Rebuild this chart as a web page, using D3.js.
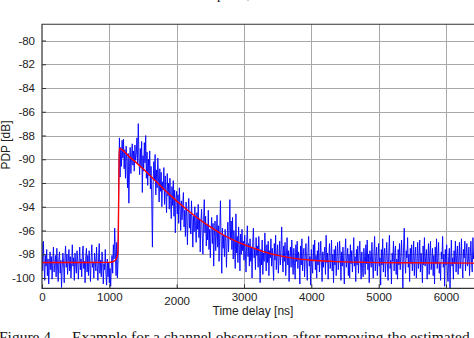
<!DOCTYPE html>
<html>
<head>
<meta charset="utf-8">
<script src="https://cdn.jsdelivr.net/npm/d3@7"></script>
<style>
  html, body { margin: 0; padding: 0; background: #fff; }
  svg { display: block; }
</style>
</head>
<body>
<svg id="chart" width="474" height="338"></svg>
<script>
// Tick labels
const xTicks = [0, 1000, 2000, 3000, 4000, 5000, 6000];
const yTicks = [-80, -82, -84, -86, -88, -90, -92, -94, -96, -98, -100];

// Measured power delay profile, one sample every 10 ns starting at 0 ns (dB)
const sampleStep = 10;
const pdpMeasured = [
  // 0 - 190 ns
  -97.0, -99.4, -96.9, -98.6, -100.2, -98.1, -99.0, -97.6, -99.8, -98.4, -100.5, -98.9, -97.8, -99.3, -98.2, -100.1, -98.6, -97.4, -99.5, -98.8,
  // 200 - 390 ns
  -98.1, -99.9, -97.5, -98.9, -100.3, -98.4, -97.8, -99.6, -98.5, -100.8, -99.2, -97.9, -98.7, -100.4, -98.3, -97.3, -99.1, -98.0, -99.7, -98.6,
  // 400 - 590 ns
  -97.6, -99.4, -98.2, -100.0, -98.8, -97.2, -99.0, -98.3, -100.2, -97.9, -98.9, -99.6, -97.7, -98.5, -100.1, -98.7, -97.4, -99.3, -98.4, -99.9,
  // 600 - 790 ns
  -98.0, -97.3, -99.2, -98.6, -100.4, -98.2, -97.5, -99.5, -98.1, -99.8, -97.7, -98.8, -100.3, -98.4, -97.2, -99.1, -98.7, -100.0, -97.9, -98.5,
  // 800 - 990 ns
  -99.4, -97.4, -98.9, -100.2, -98.3, -97.1, -99.6, -98.5, -99.9, -97.8, -98.2, -100.5, -98.8, -99.3, -97.6, -99.7, -100.6, -98.4, -99.9, -98.7,
  // 1000 - 1190 ns
  -100.4, -99.2, -100.7, -99.0, -98.1, -99.6, -97.2, -98.4, -95.8, -97.9, -99.8, -97.0, -100.0, -98.5, -92.0, -88.2, -91.5, -89.0, -90.6, -88.4,
  // 1200 - 1390 ns
  -89.9, -88.3, -90.8, -89.2, -91.6, -88.9, -90.2, -92.4, -89.5, -93.7, -90.6, -89.0, -91.2, -89.8, -88.7, -90.5, -89.3, -91.0, -88.8, -90.1,
  // 1400 - 1590 ns
  -89.6, -88.2, -90.4, -87.0, -89.9, -91.3, -89.1, -90.7, -88.5, -92.8, -89.7, -91.0, -88.6, -90.3, -88.0, -91.6, -89.4, -92.2, -90.0, -91.4,
  // 1600 - 1790 ns
  -89.3, -92.5, -90.6, -93.4, -97.4, -92.1, -90.2, -91.8, -89.6, -93.0, -90.9, -92.4, -89.9, -91.5, -93.6, -90.8, -92.7, -91.1, -94.0, -91.9,
  // 1800 - 1990 ns
  -92.6, -90.7, -93.8, -91.4, -92.9, -94.5, -91.2, -93.1, -92.0, -94.2, -91.6, -93.5, -95.0, -92.3, -93.9, -91.8, -94.8, -92.6, -96.2, -93.3,
  // 2000 - 2190 ns
  -92.7, -94.6, -93.0, -95.4, -92.4, -94.1, -96.0, -93.5, -95.1, -93.9, -92.8, -95.7, -94.3, -96.5, -93.6, -94.9, -97.2, -94.4, -93.3, -95.8,
  // 2200 - 2390 ns
  -94.6, -96.3, -93.5, -95.2, -97.4, -94.8, -96.1, -94.0, -95.6, -97.0, -94.5, -95.9, -93.8, -96.6, -95.0, -97.8, -95.3, -94.2, -96.4, -98.0,
  // 2400 - 2590 ns
  -95.1, -93.4, -96.2, -94.8, -97.3, -95.5, -96.8, -94.3, -97.6, -95.9, -98.3, -96.0, -94.9, -97.1, -95.4, -99.0, -96.5, -95.2, -97.7, -96.3,
  // 2600 - 2790 ns
  -94.7, -97.4, -95.6, -98.6, -96.2, -93.5, -96.9, -99.6, -95.8, -97.5, -96.4, -98.2, -95.9, -97.0, -99.1, -96.6, -95.3, -97.8, -96.1, -93.4,
  // 2800 - 2990 ns
  -96.8, -95.2, -97.6, -94.9, -98.4, -96.0, -97.3, -99.2, -94.6, -97.9, -96.5, -98.7, -95.7, -97.2, -99.4, -96.3, -98.0, -95.9, -97.7, -96.9,
  // 3000 - 3190 ns
  -98.5, -96.4, -97.8, -99.5, -96.9, -95.6, -98.2, -97.1, -99.0, -96.7, -98.6, -97.4, -100.0, -97.0, -95.8, -98.3, -97.5, -99.3, -96.6, -98.1,
  // 3200 - 3390 ns
  -97.3, -99.1, -96.5, -98.4, -100.4, -97.6, -98.9, -96.8, -99.7, -97.9, -98.6, -96.2, -98.0, -99.4, -97.2, -98.7, -96.9, -99.8, -97.7, -98.3,
  // 3400 - 3590 ns
  -96.7, -99.0, -97.5, -98.8, -100.2, -97.1, -98.5, -96.4, -99.3, -98.0, -97.2, -99.6, -98.3, -96.9, -98.9, -97.6, -95.7, -98.4, -99.5, -97.3,
  // 3600 - 3790 ns
  -98.6, -97.0, -99.8, -98.1, -96.6, -98.9, -97.7, -100.3, -98.2, -97.4, -99.1, -96.8, -98.5, -99.7, -97.5, -98.8, -100.1, -97.2, -98.6, -96.9,
  // 3800 - 3990 ns
  -99.2, -97.8, -98.4, -100.5, -97.3, -98.9, -96.7, -99.4, -98.0, -97.5, -99.9, -98.3, -97.1, -98.7, -100.2, -97.9, -96.5, -99.0, -98.2, -100.6,
  // 4000 - 4190 ns
  -97.6, -98.8, -99.6, -97.2, -98.5, -96.8, -99.3, -98.1, -100.0, -97.7, -98.9, -97.0, -99.5, -98.4, -96.9, -98.6, -100.3, -97.8, -99.1, -98.0,
  // 4200 - 4390 ns
  -97.4, -99.7, -96.4, -98.7, -97.9, -100.1, -98.3, -97.1, -99.2, -98.6, -96.8, -99.4, -98.0, -100.4, -97.6, -98.9, -97.3, -99.8, -98.2, -97.0,
  // 4400 - 4590 ns
  -99.3, -98.5, -96.9, -98.1, -100.2, -97.8, -99.0, -97.4, -98.7, -100.5, -97.9, -96.7, -99.1, -98.4, -97.5, -99.8, -98.0, -100.0, -97.2, -98.8,
  // 4600 - 4790 ns
  -97.7, -99.5, -98.3, -96.6, -99.0, -98.2, -100.3, -97.6, -98.9, -97.3, -99.6, -98.1, -96.9, -98.6, -100.1, -97.8, -99.2, -99.9, -97.5, -98.4,
  // 4800 - 4990 ns
  -99.7, -97.2, -98.8, -96.8, -99.3, -98.0, -100.4, -97.7, -98.5, -99.1, -97.0, -98.7, -100.0, -97.9, -96.5, -99.4, -98.2, -97.4, -99.8, -98.6,
  // 5000 - 5190 ns
  -97.1, -99.0, -98.3, -100.6, -97.6, -98.9, -96.7, -99.5, -98.1, -97.5, -99.9, -98.4, -97.0, -98.8, -100.2, -97.8, -96.4, -99.2, -98.5, -100.5,
  // 5200 - 5390 ns
  -97.9, -98.6, -96.9, -99.4, -98.0, -97.3, -99.7, -98.4, -100.1, -97.6, -98.9, -97.1, -99.3, -98.2, -96.8, -98.7, -100.9, -97.4, -95.8, -98.5,
  // 5400 - 5590 ns
  -99.6, -97.7, -98.3, -96.6, -99.1, -98.0, -100.3, -97.5, -98.8, -97.2, -99.4, -98.5, -96.9, -99.8, -98.1, -97.4, -100.0, -98.6, -97.0, -99.2,
  // 5600 - 5790 ns
  -98.4, -96.8, -99.5, -97.9, -98.7, -100.4, -97.3, -98.9, -96.6, -99.0, -98.2, -97.6, -100.1, -98.5, -97.1, -99.7, -98.0, -96.9, -99.3, -98.6,
  // 5800 - 5990 ns
  -97.5, -99.8, -98.1, -100.5, -97.4, -98.8, -96.7, -99.2, -98.3, -97.0, -99.6, -98.7, -100.2, -97.8, -98.4, -96.5, -99.1, -98.0, -100.7, -97.6,
  // 6000 - 6190 ns
  -98.9, -97.2, -99.4, -100.3, -98.2, -97.5, -100.9, -98.6, -96.8, -99.0, -98.3, -100.1, -97.7, -98.8, -96.9, -99.5, -98.1, -97.3, -99.7, -98.4,
  // 6200 - 6390 ns
  -97.0, -99.2, -98.5, -96.7, -98.9, -100.0, -97.6, -98.3, -96.9, -99.4, -98.0, -97.1, -99.0, -98.6, -97.4, -99.8, -98.2, -96.9, -98.7, -99.5,
  // 6400 - 6420 ns
  -96.6, -98.4, -97.8
];

// Fitted model: delay (ns) and PDP (dB)
const fitDelay = [0, 500, 1000, 1040, 1080, 1110, 1125, 1135, 1142, 1147, 1300, 1500, 1700, 1900, 2100, 2300, 2500, 2700, 2900, 3100, 3300, 3500, 3750, 4000, 4300, 4800, 5500, 6450];
const fitPdp   = [-98.70, -98.70, -98.68, -98.65, -98.55, -98.3, -97.9, -95.5, -91.5, -89.1, -89.8, -90.8, -91.9, -93.0, -94.0, -94.9, -95.7, -96.4, -96.95, -97.4, -97.8, -98.1, -98.35, -98.5, -98.6, -98.68, -98.72, -98.75];

const svg = d3.select("#chart");
svg.append("rect").attr("width", 474).attr("height", 338).attr("fill", "#fff");

const x = d3.scaleLinear().domain([0, 7000]).range([42, 42 + 67.33 * 7]);
const y = d3.scaleLinear().domain([-100, -80]).range([278, 40.5]);

const plotLeft = x(0);
const plotRight = x(7000);
const plotTop = y(-78.63);
const plotBottom = y(-100.87);

const sans = "'Liberation Sans', Arial, Helvetica, sans-serif";
const serif = "'Liberation Serif', 'Times New Roman', serif";

svg.append("defs").append("clipPath").attr("id", "plotClip")
  .append("rect")
  .attr("x", plotLeft).attr("y", plotTop)
  .attr("width", plotRight - plotLeft).attr("height", plotBottom - plotTop);

// Grid
const grid = svg.append("g").attr("stroke", "#a8a8a8").attr("stroke-width", 1);
grid.selectAll("line.gx").data(xTicks.filter(d => d > 0)).join("line")
  .attr("class", "gx")
  .attr("x1", d => Math.round(x(d)) + 0.5).attr("x2", d => Math.round(x(d)) + 0.5)
  .attr("y1", plotTop).attr("y2", plotBottom);
grid.selectAll("line.gy").data(yTicks).join("line")
  .attr("class", "gy")
  .attr("x1", plotLeft).attr("x2", plotRight)
  .attr("y1", d => Math.round(y(d)) + 0.5).attr("y2", d => Math.round(y(d)) + 0.5);

// Curves
const plot = svg.append("g").attr("clip-path", "url(#plotClip)");

const measured = pdpMeasured.map((v, i) => [i * sampleStep, v]);
const line = d3.line().x(d => x(d[0])).y(d => y(d[1]));

plot.append("path")
  .datum(measured)
  .attr("d", line)
  .attr("fill", "none")
  .attr("stroke", "#0000ff")
  .attr("stroke-width", 0.9)
  .attr("stroke-linejoin", "round");

const fit = fitDelay.map((t, i) => [t, fitPdp[i]]);
plot.append("path")
  .datum(fit)
  .attr("d", d3.line().x(d => x(d[0])).y(d => y(d[1])).curve(d3.curveMonotoneX))
  .attr("fill", "none")
  .attr("stroke", "#ff0000")
  .attr("stroke-width", 1.4);

// Axes frame
const frame = svg.append("g").attr("stroke", "#333").attr("stroke-width", 1.2).attr("fill", "none");
frame.append("path")
  .attr("d", `M${plotRight},${plotTop}H${plotLeft}V${plotBottom}H${plotRight}`);

// Y axis ticks and labels
const yAxis = d3.axisLeft(y).tickValues(yTicks).tickSize(-4).tickPadding(7)
  .tickFormat(d => String(d));
const gy = svg.append("g").attr("transform", `translate(${plotLeft},0)`).call(yAxis);
gy.select(".domain").remove();
gy.selectAll(".tick line").attr("stroke", "#333");
gy.selectAll(".tick text").attr("font-family", sans).attr("font-size", 11.5).attr("fill", "#222");

// X axis ticks and labels
const xAxis = d3.axisBottom(x).tickValues(xTicks).tickSize(-4).tickPadding(5)
  .tickFormat(d => String(d));
const gx = svg.append("g").attr("transform", `translate(0,${plotBottom})`).call(xAxis);
gx.select(".domain").remove();
gx.selectAll(".tick line").attr("stroke", "#333");
gx.selectAll(".tick text").attr("font-family", sans).attr("font-size", 11.5).attr("fill", "#222")
  .attr("dy", d => d === 2000 ? "1.05em" : "0.71em");

// Axis titles
svg.append("text")
  .attr("x", 253).attr("y", 315)
  .attr("text-anchor", "middle")
  .attr("font-family", sans).attr("font-size", 12).attr("fill", "#222")
  .text("Time delay [ns]");

svg.append("text")
  .attr("transform", "translate(10,145) rotate(-90)")
  .attr("text-anchor", "middle")
  .attr("font-family", sans).attr("font-size", 12).attr("fill", "#222")
  .text("PDP [dB]");

// Caption
svg.append("text")
  .attr("x", -1).attr("y", 341.5)
  .attr("font-family", serif).attr("font-size", 15.5).attr("fill", "#111")
  .text("Figure 4.");
svg.append("text")
  .attr("x", 72).attr("y", 341.5)
  .attr("font-family", serif).attr("font-size", 15.5).attr("fill", "#111")
  .text("Example for a channel observation after removing the estimated");

// Tail of the line above the figure
svg.append("text")
  .attr("x", 217).attr("y", -1)
  .attr("font-family", serif).attr("font-size", 14).attr("fill", "#111")
  .text("p");
svg.append("text")
  .attr("x", 247).attr("y", -1)
  .attr("font-family", serif).attr("font-size", 14).attr("fill", "#111")
  .text(",");
</script>
</body>
</html>
